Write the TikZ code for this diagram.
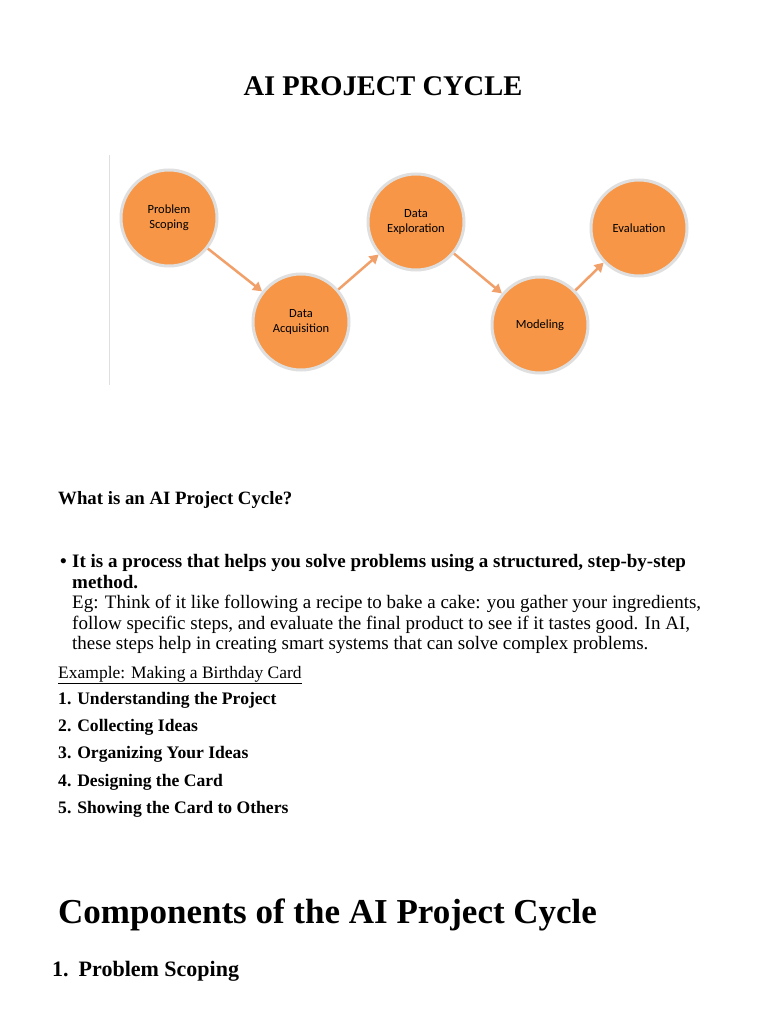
\documentclass[tikz,border=0pt]{standalone}
\usepackage{fontspec}
\setmainfont{Liberation Serif}
\newfontfamily\stagefont{Carlito}
\usetikzlibrary{arrows.meta}
\definecolor{org}{HTML}{F79646}
\definecolor{arr}{HTML}{F2A06A}
\begin{document}
\begin{tikzpicture}[x=1pt,y=-1pt,
  stage/.style={circle,fill=org,draw=gray!25,line width=3pt,minimum size=96pt,inner sep=0pt,align=center,font=\stagefont\fontsize{12.5}{15}\selectfont},
  conn/.style={draw=arr,line width=2.5pt,-{Triangle[length=9pt,width=10pt]}},
  txt/.style={anchor=base west,inner sep=0pt,font=\fontsize{19}{20}\selectfont},
  btxt/.style={txt,font=\fontsize{19}{20}\selectfont\bfseries},
  ltxt/.style={txt,font=\fontsize{17.6}{20}\selectfont\bfseries}]
\useasboundingbox[fill=white] (0,0) rectangle (768,1024);
\node[anchor=base,font=\fontsize{28.5}{30}\selectfont\bfseries] (title) at (383,96) {AI PROJECT CYCLE};
\draw[gray!25,line width=0.8pt] (109,155) -- (109,385);
\node[stage] (ps) at (169,218) {Problem\\Scoping};
\node[stage] (da) at (301,322) {Data\\Acquisition};
\node[stage] (de) at (416,222) {Data\\Exploration};
\node[stage] (mo) at (540,325) {Modeling};
\node[stage] (ev) at (639,228) {Evaluation};
\draw[conn] (ps) -- (da);
\draw[conn] (da) -- (de);
\draw[conn] (de) -- (mo);
\draw[conn] (mo) -- (ev);
\node[ltxt,font=\fontsize{18.8}{20}\selectfont\bfseries] (q) at (58,504) {What is an AI Project Cycle?};
\node[btxt] (b) at (60,567) {\textbullet};
\node[btxt] (l1) at (72,567) {It is a process that helps you solve problems using a structured, step-by-step};
\node[btxt] (l2) at (72,588) {method.};
\node[txt] (l3) at (72,608) {Eg: Think of it like following a recipe to bake a cake: you gather your ingredients,};
\node[txt] (l4) at (72,629) {follow specific steps, and evaluate the final product to see if it tastes good. In AI,};
\node[txt] (l5) at (72,649) {these steps help in creating smart systems that can solve complex problems.};
\node[txt,font=\fontsize{17.5}{20}\selectfont] (ex) at (58,678) {\underline{Example: Making a Birthday Card}};
\node[ltxt] (i1) at (58,704) {1. Understanding the Project};
\node[ltxt] (i2) at (58,731) {2. Collecting Ideas};
\node[ltxt] (i3) at (58,758) {3. Organizing Your Ideas};
\node[ltxt] (i4) at (58,786) {4. Designing the Card};
\node[ltxt] (i5) at (58,813) {5. Showing the Card to Others};
\node[txt,font=\fontsize{35}{40}\selectfont\bfseries] (h) at (58,923) {Components of the AI Project Cycle};
\node[txt,font=\fontsize{22}{25}\selectfont\bfseries] (ps1) at (52,976) {1.\hspace{10pt}Problem Scoping};
\end{tikzpicture}
\end{document}
